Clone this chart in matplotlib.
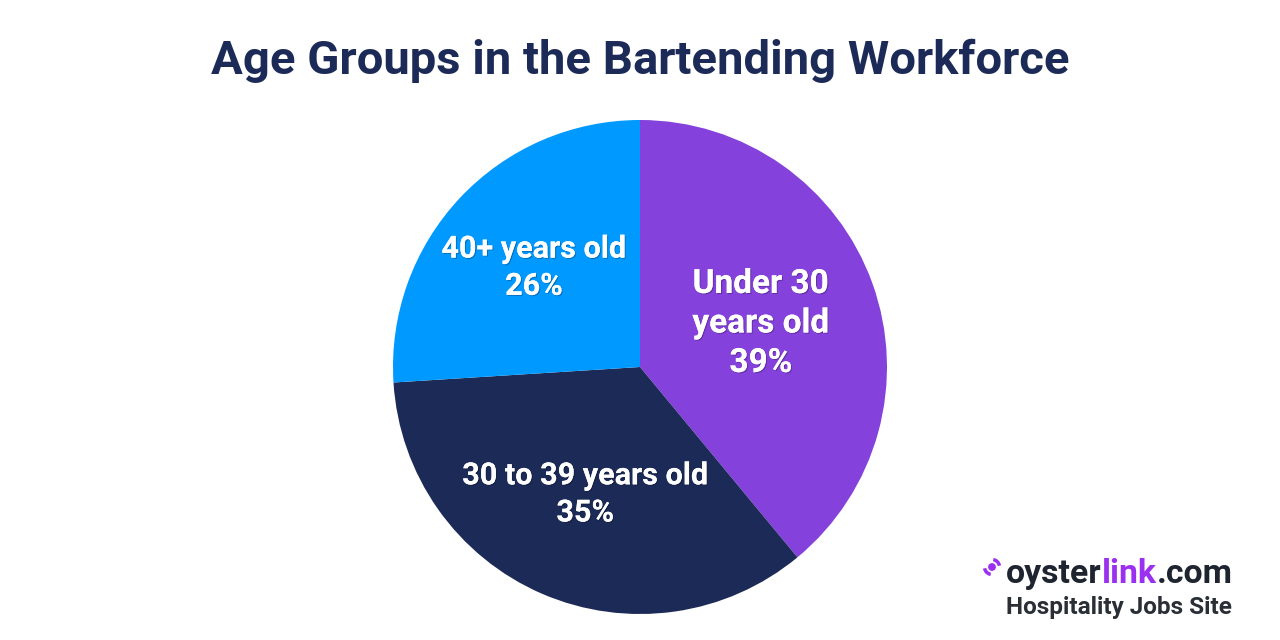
import matplotlib
matplotlib.use("Agg")
import matplotlib.pyplot as plt
import numpy as np
from matplotlib.patches import Circle, Arc
import matplotlib.patheffects as pe

plt.rcParams['font.family'] = ['Roboto', 'DejaVu Sans']

labels = ["Under 30\nyears old", "30 to 39 years old", "40+ years old"]
values = [39, 35, 26]
colors = ["#8441DC", "#1C2A57", "#0099FF"]
label_dist = [0.52, 0.56, 0.59]
label_size = [24, 22, 22]

fig = plt.figure(figsize=(12.8, 6.4), dpi=100)
fig.patch.set_facecolor("white")

fig.text(0.5, 0.905, "Age Groups in the Bartending Workforce", ha="center", va="center",
         fontsize=34, fontweight="bold", color="#1C2A57")

R = 247
ax = fig.add_axes([(640 - R) / 1280, (273 - R) / 640, 2 * R / 1280, 2 * R / 640])
wedges, _ = ax.pie(values, colors=colors, startangle=90, counterclock=False,
                   radius=1.0, wedgeprops=dict(linewidth=0))
ax.set_xlim(-1, 1)
ax.set_ylim(-1, 1)
ax.set_aspect("equal")
ax.axis("off")

shadow = [pe.withSimplePatchShadow(offset=(0.8, -0.8), shadow_rgbFace="black", alpha=0.25),
          pe.Normal()]
for w, lab, v, d, fs in zip(wedges, labels, values, label_dist, label_size):
    mid = np.deg2rad((w.theta1 + w.theta2) / 2)
    ax.text(d * np.cos(mid), d * np.sin(mid), f"{lab}\n{v}%", ha="center", va="center",
            fontsize=fs, fontweight="bold", color="white", linespacing=1.3,
            path_effects=shadow)

# logo
fig.canvas.draw()
r = fig.canvas.get_renderer()
x = 1006 / 1280
y = 1 - 583 / 640
parts = [("oyster", "#1E2530"), ("link", "#9B30F0"), (".com", "#1E2530")]
for s, c in parts:
    t = fig.text(x, y, s, ha="left", va="baseline", fontsize=24.4, fontweight="bold", color=c)
    bb = t.get_window_extent(renderer=r)
    x += bb.width / 1280
fig.text(1006 / 1280, 1 - 614 / 640, "Hospitality Jobs Site", ha="left", va="baseline",
         fontsize=17.5, fontweight="bold", color="#2A2F36")
cx, cy = 992, 640 - 567
fig.patches.append(Circle((cx, cy), 3.2, transform=None, color="#9B30F0"))
fig.patches.append(Arc((cx, cy), 15, 15, theta1=10, theta2=80, transform=None,
                       color="#9B30F0", linewidth=2.5))
fig.patches.append(Arc((cx, cy), 15, 15, theta1=190, theta2=260, transform=None,
                       color="#9B30F0", linewidth=2.5))

fig.savefig("out.png", dpi=100, facecolor="white")
